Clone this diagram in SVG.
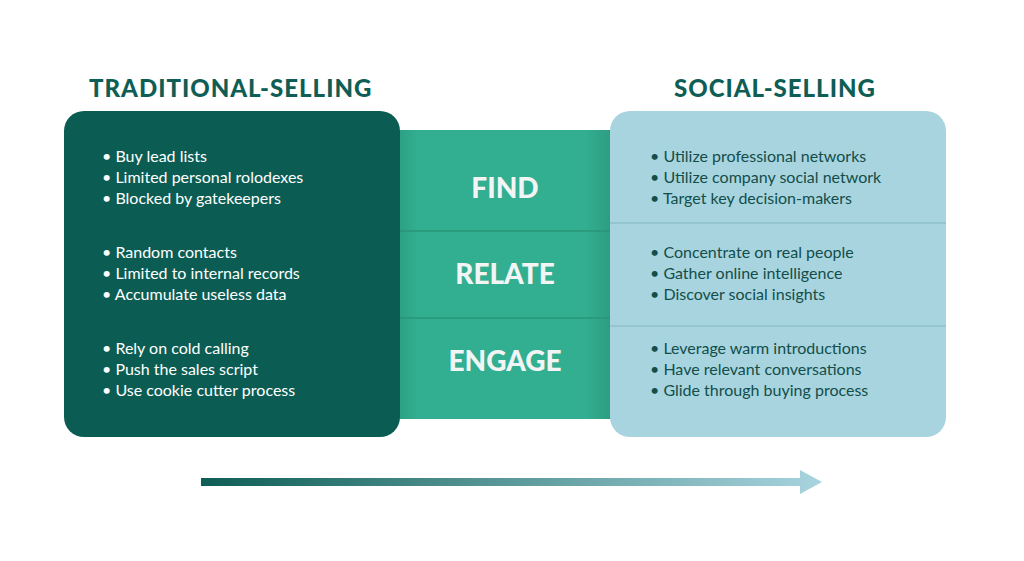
<svg xmlns="http://www.w3.org/2000/svg" width="1024" height="561" viewBox="0 0 1024 561">
<defs>
<linearGradient id="band" x1="0" x2="1" y1="0" y2="0">
<stop offset="0" stop-color="#2a9a7e"/><stop offset="0.12" stop-color="#32ae90"/><stop offset="0.85" stop-color="#32ae90"/><stop offset="1" stop-color="#2c977c"/>
</linearGradient>
<linearGradient id="arr" x1="0" x2="1">
<stop offset="0" stop-color="#0e5e55"/><stop offset="1" stop-color="#a8d4df"/>
</linearGradient>
<style>
.h{font-family:Lato,"Liberation Sans",sans-serif;font-weight:900;font-size:24px;fill:#0e5e55;letter-spacing:1px}
.m{font-family:Lato,"Liberation Sans",sans-serif;font-weight:900;font-size:28px;fill:#f2f5f4;text-anchor:middle}
.l{font-family:Lato,"Liberation Sans",sans-serif;font-size:16px;fill:#ffffff}
.r{font-family:Lato,"Liberation Sans",sans-serif;font-size:16px;fill:#124e4a}
</style>
</defs>
<rect width="1024" height="561" fill="#fff"/>
<g id="titles">
<text class="h" x="89" y="97">TRADITIONAL-SELLING</text>
<text class="h" x="674" y="97">SOCIAL-SELLING</text>
</g>
<g id="middle">
<rect x="390" y="130" width="230" height="289" fill="url(#band)"/>
<line x1="398" y1="231" x2="612" y2="231" stroke="#2a9478" stroke-width="1.5"/>
<line x1="398" y1="318" x2="612" y2="318" stroke="#2a9478" stroke-width="1.5"/>
<text class="m" x="505" y="198">FIND</text>
<text class="m" x="505" y="284">RELATE</text>
<text class="m" x="505" y="371">ENGAGE</text>
</g>
<g id="traditional">
<rect x="64" y="111" width="336" height="326" rx="20" fill="#0b5d54"/>
<text class="l" x="102" y="162">• Buy lead lists</text>
<text class="l" x="102" y="183">• Limited personal rolodexes</text>
<text class="l" x="102" y="204">• Blocked by gatekeepers</text>
<text class="l" x="102" y="258">• Random contacts</text>
<text class="l" x="102" y="279">• Limited to internal records</text>
<text class="l" x="102" y="300">• Accumulate useless data</text>
<text class="l" x="102" y="354">• Rely on cold calling</text>
<text class="l" x="102" y="375">• Push the sales script</text>
<text class="l" x="102" y="396">• Use cookie cutter process</text>
</g>
<g id="social">
<rect x="610" y="111" width="336" height="326" rx="20" fill="#a8d4df"/>
<line x1="610" y1="223" x2="946" y2="223" stroke="#8fc1cc" stroke-width="1.5"/>
<line x1="610" y1="326" x2="946" y2="326" stroke="#8fc1cc" stroke-width="1.5"/>
<text class="r" x="650" y="162">• Utilize professional networks</text>
<text class="r" x="650" y="183">• Utilize company social network</text>
<text class="r" x="650" y="204">• Target key decision-makers</text>
<text class="r" x="650" y="258">• Concentrate on real people</text>
<text class="r" x="650" y="279">• Gather online intelligence</text>
<text class="r" x="650" y="300">• Discover social insights</text>
<text class="r" x="650" y="354">• Leverage warm introductions</text>
<text class="r" x="650" y="375">• Have relevant conversations</text>
<text class="r" x="650" y="396">• Glide through buying process</text>
</g>
<g id="connectors">
<path d="M201 478 H800 V470 L822 482 L800 494 V486 H201 Z" fill="url(#arr)"/>
</g>
</svg>
